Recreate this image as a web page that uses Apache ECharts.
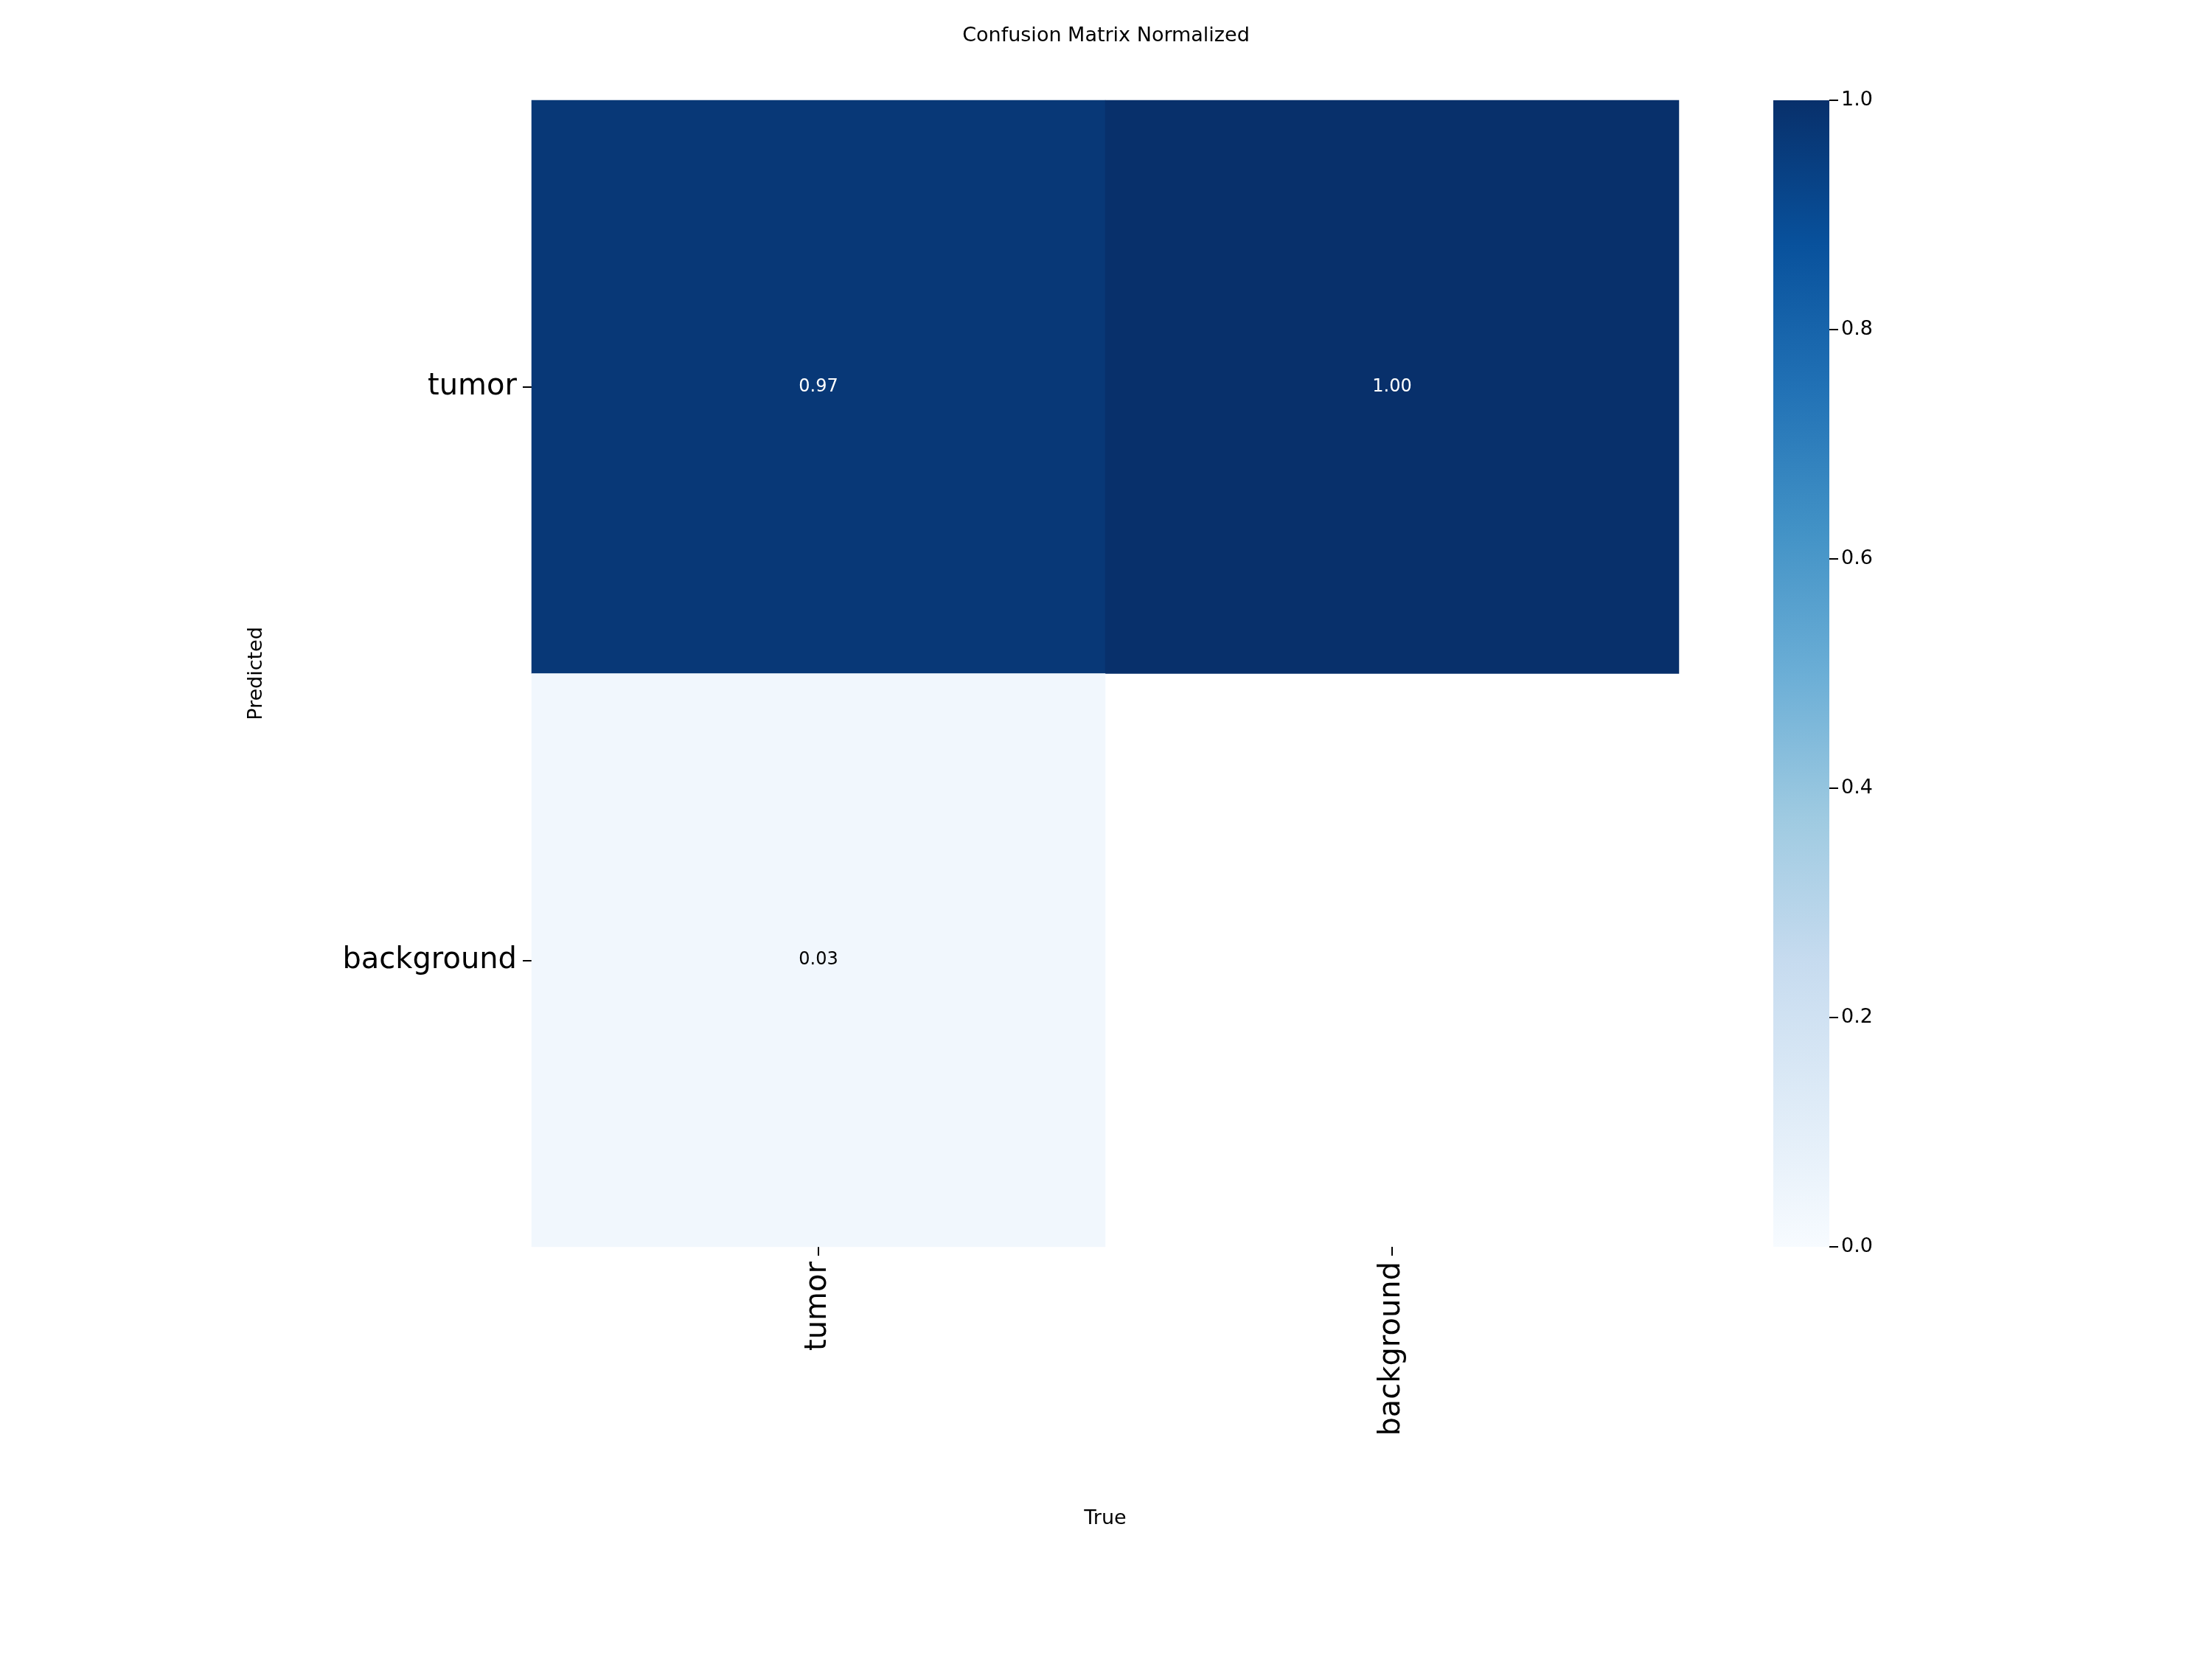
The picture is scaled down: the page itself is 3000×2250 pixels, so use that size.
<!DOCTYPE html><html><head><meta charset="utf-8">
<script src="https://cdn.jsdelivr.net/npm/echarts@6/dist/echarts.min.js"></script>
<style>html,body{margin:0;background:#fff}#c{width:3000px;height:2250px}</style></head><body><div id="c"></div>
<script>
const trueLabels=['tumor','background'];
const predLabels=['tumor','background'];
// [trueIndex, predIndex, value]; zero cell left blank
const cells=[[0,0,0.97],[1,0,1.00],[0,1,0.03]];
const cbTicks=[0,0.2,0.4,0.6,0.8,1.0];
const blues=['#f7fbff','#deebf7','#c6dbef','#9ecae1','#6baed6','#4292c6','#2171b5','#08519c','#08306b'];
const font='DejaVu Sans';
const chart=echarts.init(document.getElementById('c'));
chart.setOption({
 backgroundColor:'#fff',
 textStyle:{fontFamily:font},
 title:{text:'Confusion Matrix Normalized',left:'center',top:30,textStyle:{fontFamily:font,fontSize:27,fontWeight:'normal',color:'#000'}},
 grid:[{left:721,right:723,top:136,bottom:559},{left:2405,width:76,top:136,bottom:559}],
 xAxis:[{type:'category',data:trueLabels,gridIndex:0,name:'True',nameLocation:'middle',nameGap:355,nameTextStyle:{fontSize:27,color:'#000'},
   axisLine:{show:false},axisTick:{show:true,length:12,alignWithLabel:true,lineStyle:{color:'#000',width:2}},splitLine:{show:false},
   axisLabel:{rotate:90,fontSize:40,color:'#000',margin:20}},
  {type:'category',data:['cb'],gridIndex:1,show:false}],
 yAxis:[{type:'category',data:predLabels,inverse:true,gridIndex:0,name:'Predicted',nameLocation:'middle',nameGap:360,nameTextStyle:{fontSize:27,color:'#000'},
   axisLine:{show:false},axisTick:{show:true,length:12,alignWithLabel:true,lineStyle:{color:'#000',width:2}},splitLine:{show:false},
   axisLabel:{fontSize:40,color:'#000',margin:20}},
  {type:'value',gridIndex:1,position:'right',min:0,max:1,interval:0.2,axisLine:{show:false},
   axisTick:{show:true,length:12,lineStyle:{color:'#000',width:2}},splitLine:{show:false},
   axisLabel:{fontSize:27,color:'#000',margin:16,formatter:v=>v.toFixed(1)}}],
 visualMap:{show:false,min:0,max:1,seriesIndex:0,inRange:{color:blues}},
 series:[{type:'heatmap',xAxisIndex:0,yAxisIndex:0,data:cells,
   label:{show:true,fontSize:24,formatter:p=>p.value[2].toFixed(2),color:'#fff'},
   labelLayout:{},itemStyle:{borderWidth:0}},
  {type:'bar',xAxisIndex:1,yAxisIndex:1,data:[cbTicks[cbTicks.length-1]],barWidth:'100%',silent:true,
   itemStyle:{color:new echarts.graphic.LinearGradient(0,1,0,0,blues.map((c,i)=>({offset:i/(blues.length-1),color:c})))}}]
});
// dark label for light cells
const opt=chart.getOption();
opt.series[0].data=cells.map(c=>({value:c,label:{color:c[2]>0.5?'#fff':'#000'}}));
chart.setOption({series:opt.series});
</script></body></html>
